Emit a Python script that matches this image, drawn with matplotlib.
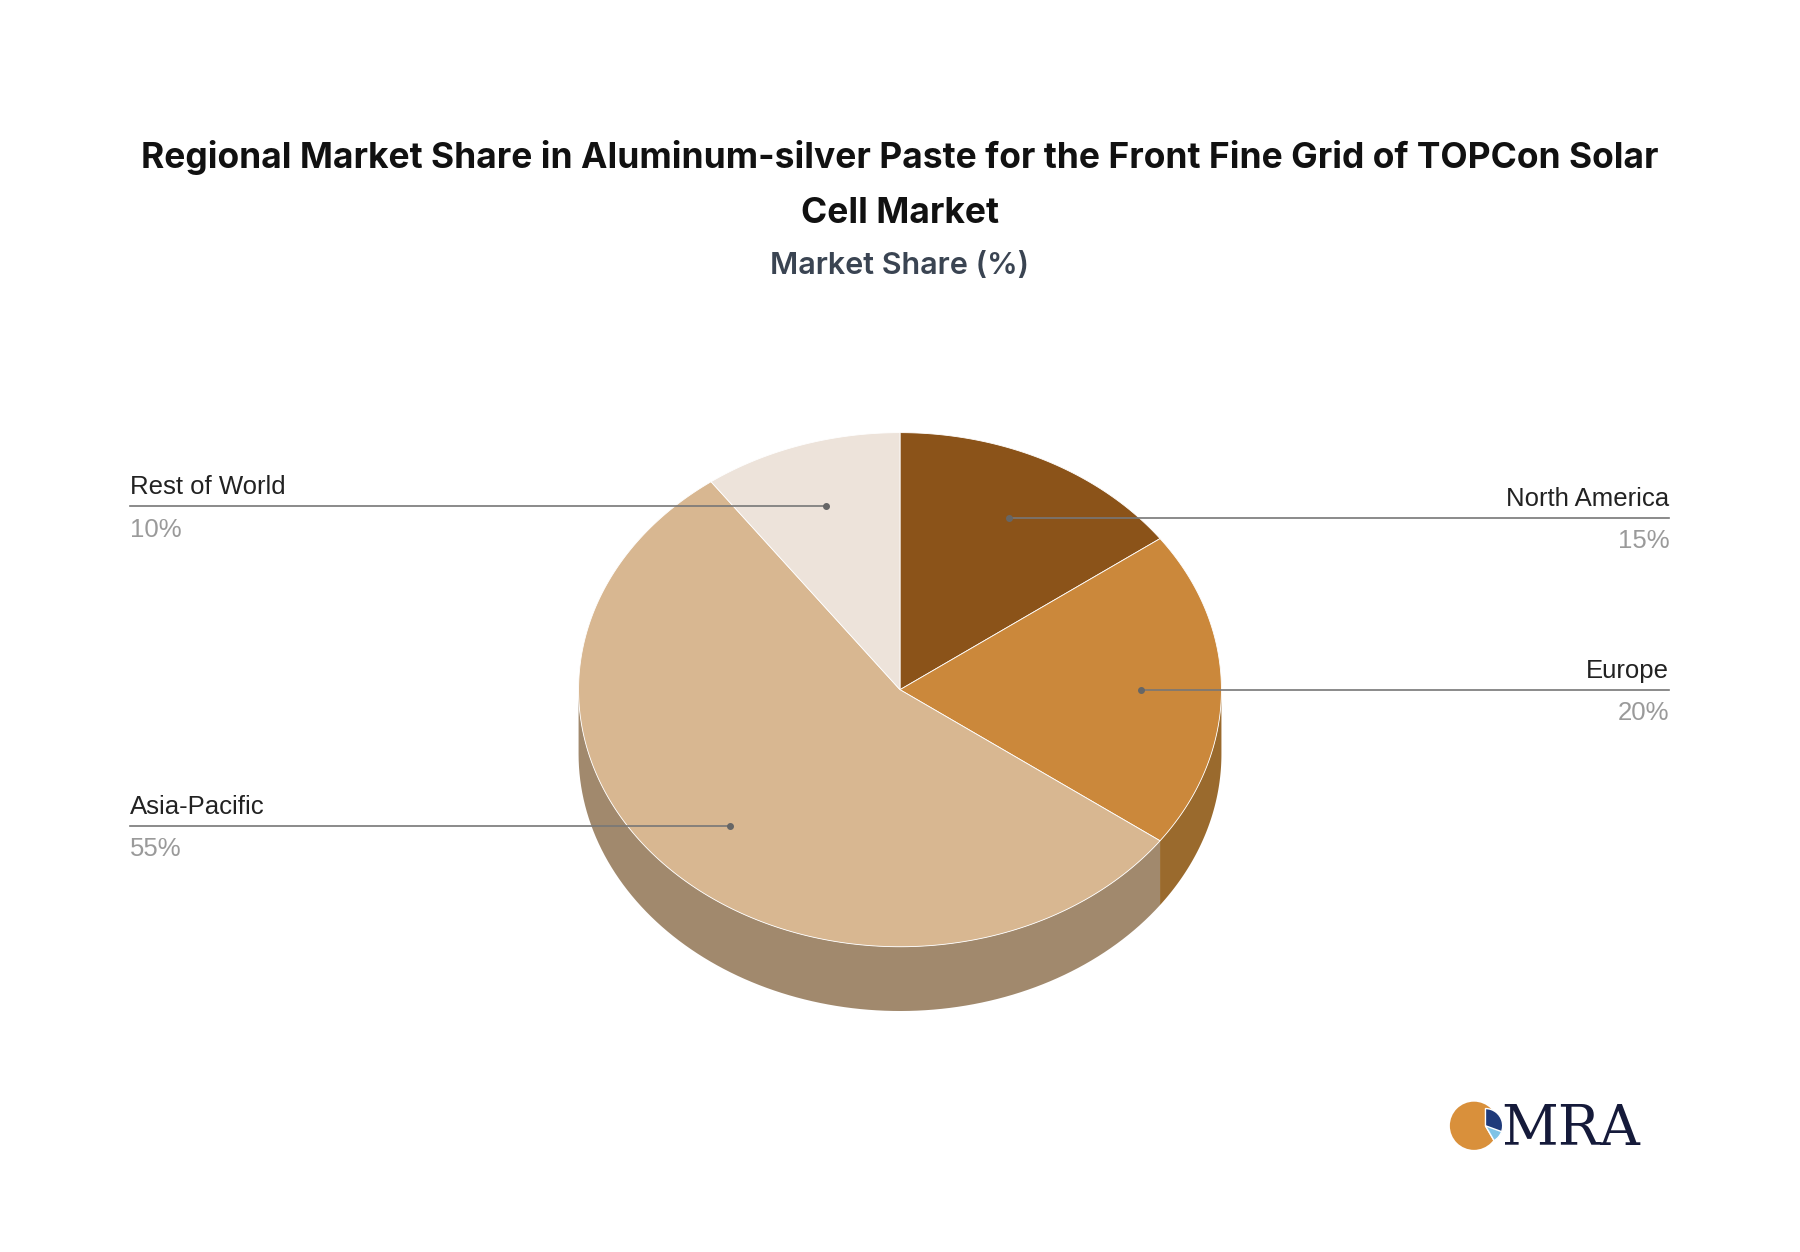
import numpy as np
import matplotlib.pyplot as plt
from matplotlib.patches import Polygon, Circle, Wedge

regions = ["North America", "Europe", "Asia-Pacific", "Rest of World"]
shares = [15, 20, 55, 10]
top_colors = ["#8b5319", "#cb883b", "#d8b791", "#ede3da"]
side_colors = ["#6a3f12", "#9a6a2d", "#a1896d", "#b5aca3"]

# geometry in reference pixel space (1568 x 1091)
W, H = 1568, 1091
cx, cy, rx, ry, depth = 784, 601, 280, 224, 56

fig = plt.figure(figsize=(18, 12.52), dpi=100)
ax = fig.add_axes([0, 0, 1, 1])
ax.set_xlim(0, W)
ax.set_ylim(H, 0)
ax.axis("off")


def pt(t, dy=0):
    return cx + rx * np.sin(t), cy - ry * np.cos(t) + dy


bounds = np.cumsum([0] + shares) / 100 * 2 * np.pi

# side walls (only the front half is visible)
for i in range(len(shares)):
    a0, a1 = max(bounds[i], np.pi / 2), min(bounds[i + 1], 3 * np.pi / 2)
    if a1 <= a0:
        continue
    t = np.linspace(a0, a1, 100)
    xs, ys = pt(t)
    xb, yb = pt(t[::-1], depth)
    poly = np.column_stack([np.r_[xs, xb], np.r_[ys, yb]])
    ax.add_patch(Polygon(poly, closed=True, fc=side_colors[i], ec="none"))

# top faces
for i in range(len(shares)):
    t = np.linspace(bounds[i], bounds[i + 1], 200)
    xs, ys = pt(t)
    poly = np.column_stack([np.r_[cx, xs], np.r_[cy, ys]])
    ax.add_patch(Polygon(poly, closed=True, fc=top_colors[i], ec="white", lw=0.6))

# leader lines and labels
label_side = ["right", "right", "left", "left"]
for i, name in enumerate(regions):
    mid = (bounds[i] + bounds[i + 1]) / 2
    dx, dyv = pt(mid)
    px = cx + (dx - cx) * 0.75
    py = cy + (dyv - cy) * 0.75
    if label_side[i] == "right":
        xe, ha = 1454, "right"
    else:
        xe, ha = 113, "left"
    ax.plot([px, xe], [py, py], color="#777777", lw=1.2)
    ax.plot(px, py, "o", color="#666666", ms=4)
    ax.text(xe, py - 6, name, ha=ha, va="bottom", fontsize=18.5,
            family="Liberation Sans", color="#222222")
    ax.text(xe, py + 10, f"{shares[i]}%", ha=ha, va="top", fontsize=18.5,
            family="Liberation Sans", color="#9a9a9a")

# titles
ax.text(W / 2, 137, "Regional Market Share in Aluminum-silver Paste for the Front Fine Grid of TOPCon Solar",
        ha="center", va="center", fontsize=25.5, fontweight="bold", family="Inter", color="#111111")
ax.text(W / 2, 186, "Cell Market", ha="center", va="center", fontsize=25.5,
        fontweight="bold", family="Inter", color="#111111")
ax.text(W / 2, 232, "Market Share (%)", ha="center", va="center", fontsize=22,
        fontweight="semibold", family="Inter", color="#3a4452")

# logo
ax.add_patch(Circle((1284, 981), 21, fc="#d9903b", ec="none"))
ax.add_patch(Wedge((1294, 981), 15, -90, 60, fc="#1f3a7a", ec="white", lw=1))
ax.add_patch(Wedge((1294, 981), 15, 20, 60, fc="#7fc3e6", ec="white", lw=1))
ax.text(1308, 998, "MRA", ha="left", va="baseline", fontsize=40, family="DejaVu Serif",
        color="#151a3a")

fig.savefig("out.png", dpi=100, facecolor="white")
